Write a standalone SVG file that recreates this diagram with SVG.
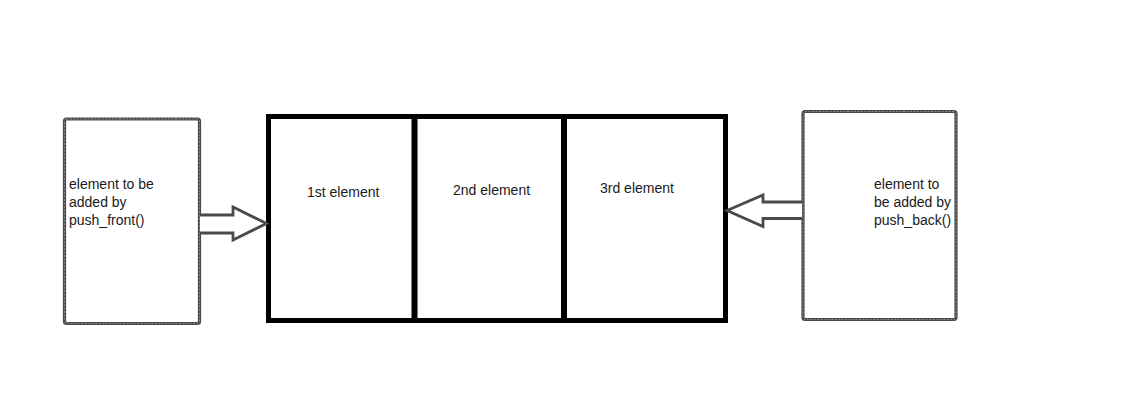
<svg xmlns="http://www.w3.org/2000/svg" width="1143" height="417" viewBox="0 0 1143 417">
<style>
.sk{fill:#fff;stroke:#4a4a4a;stroke-width:3.2;stroke-linejoin:round}
.sk2{fill:none;stroke:#8a8a8a;stroke-width:1;stroke-dasharray:2 1.5}
.ar{fill:#fff;stroke:#4a4a4a;stroke-width:2.8;stroke-linejoin:miter}
.cell{fill:#fff;stroke:#000;stroke-width:5}
.t{font-family:"Liberation Sans",Arial,sans-serif;font-size:14px;fill:#1a1a1a}
</style>
<rect width="1143" height="417" fill="#fff"/>
<g id="front-box">
<rect class="sk" x="64.5" y="119" width="135" height="204.5" rx="2"/>
<rect class="sk2" x="64.5" y="119" width="135" height="204.5" rx="2"/>
<text class="t" x="69" y="189">element to be</text>
<text class="t" x="69" y="207">added by</text>
<text class="t" x="69" y="225">push_front()</text>
</g>
<g id="deque">
<rect class="cell" x="268.5" y="116.5" width="457" height="204"/>
<line x1="414.5" y1="116.5" x2="414.5" y2="320.5" stroke="#000" stroke-width="6"/>
<line x1="564" y1="116.5" x2="564" y2="320.5" stroke="#000" stroke-width="6"/>
<text class="t" x="307" y="197">1st element</text>
<text class="t" x="453" y="195">2nd element</text>
<text class="t" x="600" y="193">3rd element</text>
</g>
<g id="back-box">
<rect class="sk" x="803" y="111.5" width="153" height="208" rx="2"/>
<rect class="sk2" x="803" y="111.5" width="153" height="208" rx="2"/>
<text class="t" x="874" y="189">element to</text>
<text class="t" x="874" y="207">be added by</text>
<text class="t" x="874" y="225">push_back()</text>
</g>
<g id="connectors">
<path class="ar" d="M200,215 L233,215 L233,207 L266.5,223.5 L233,240 L233,233 L200,233"/>
<path class="ar" d="M802,202 L763,202 L763,195 L727,210.5 L763,226.5 L763,218.5 L802,218.5"/>
</g>
</svg>
